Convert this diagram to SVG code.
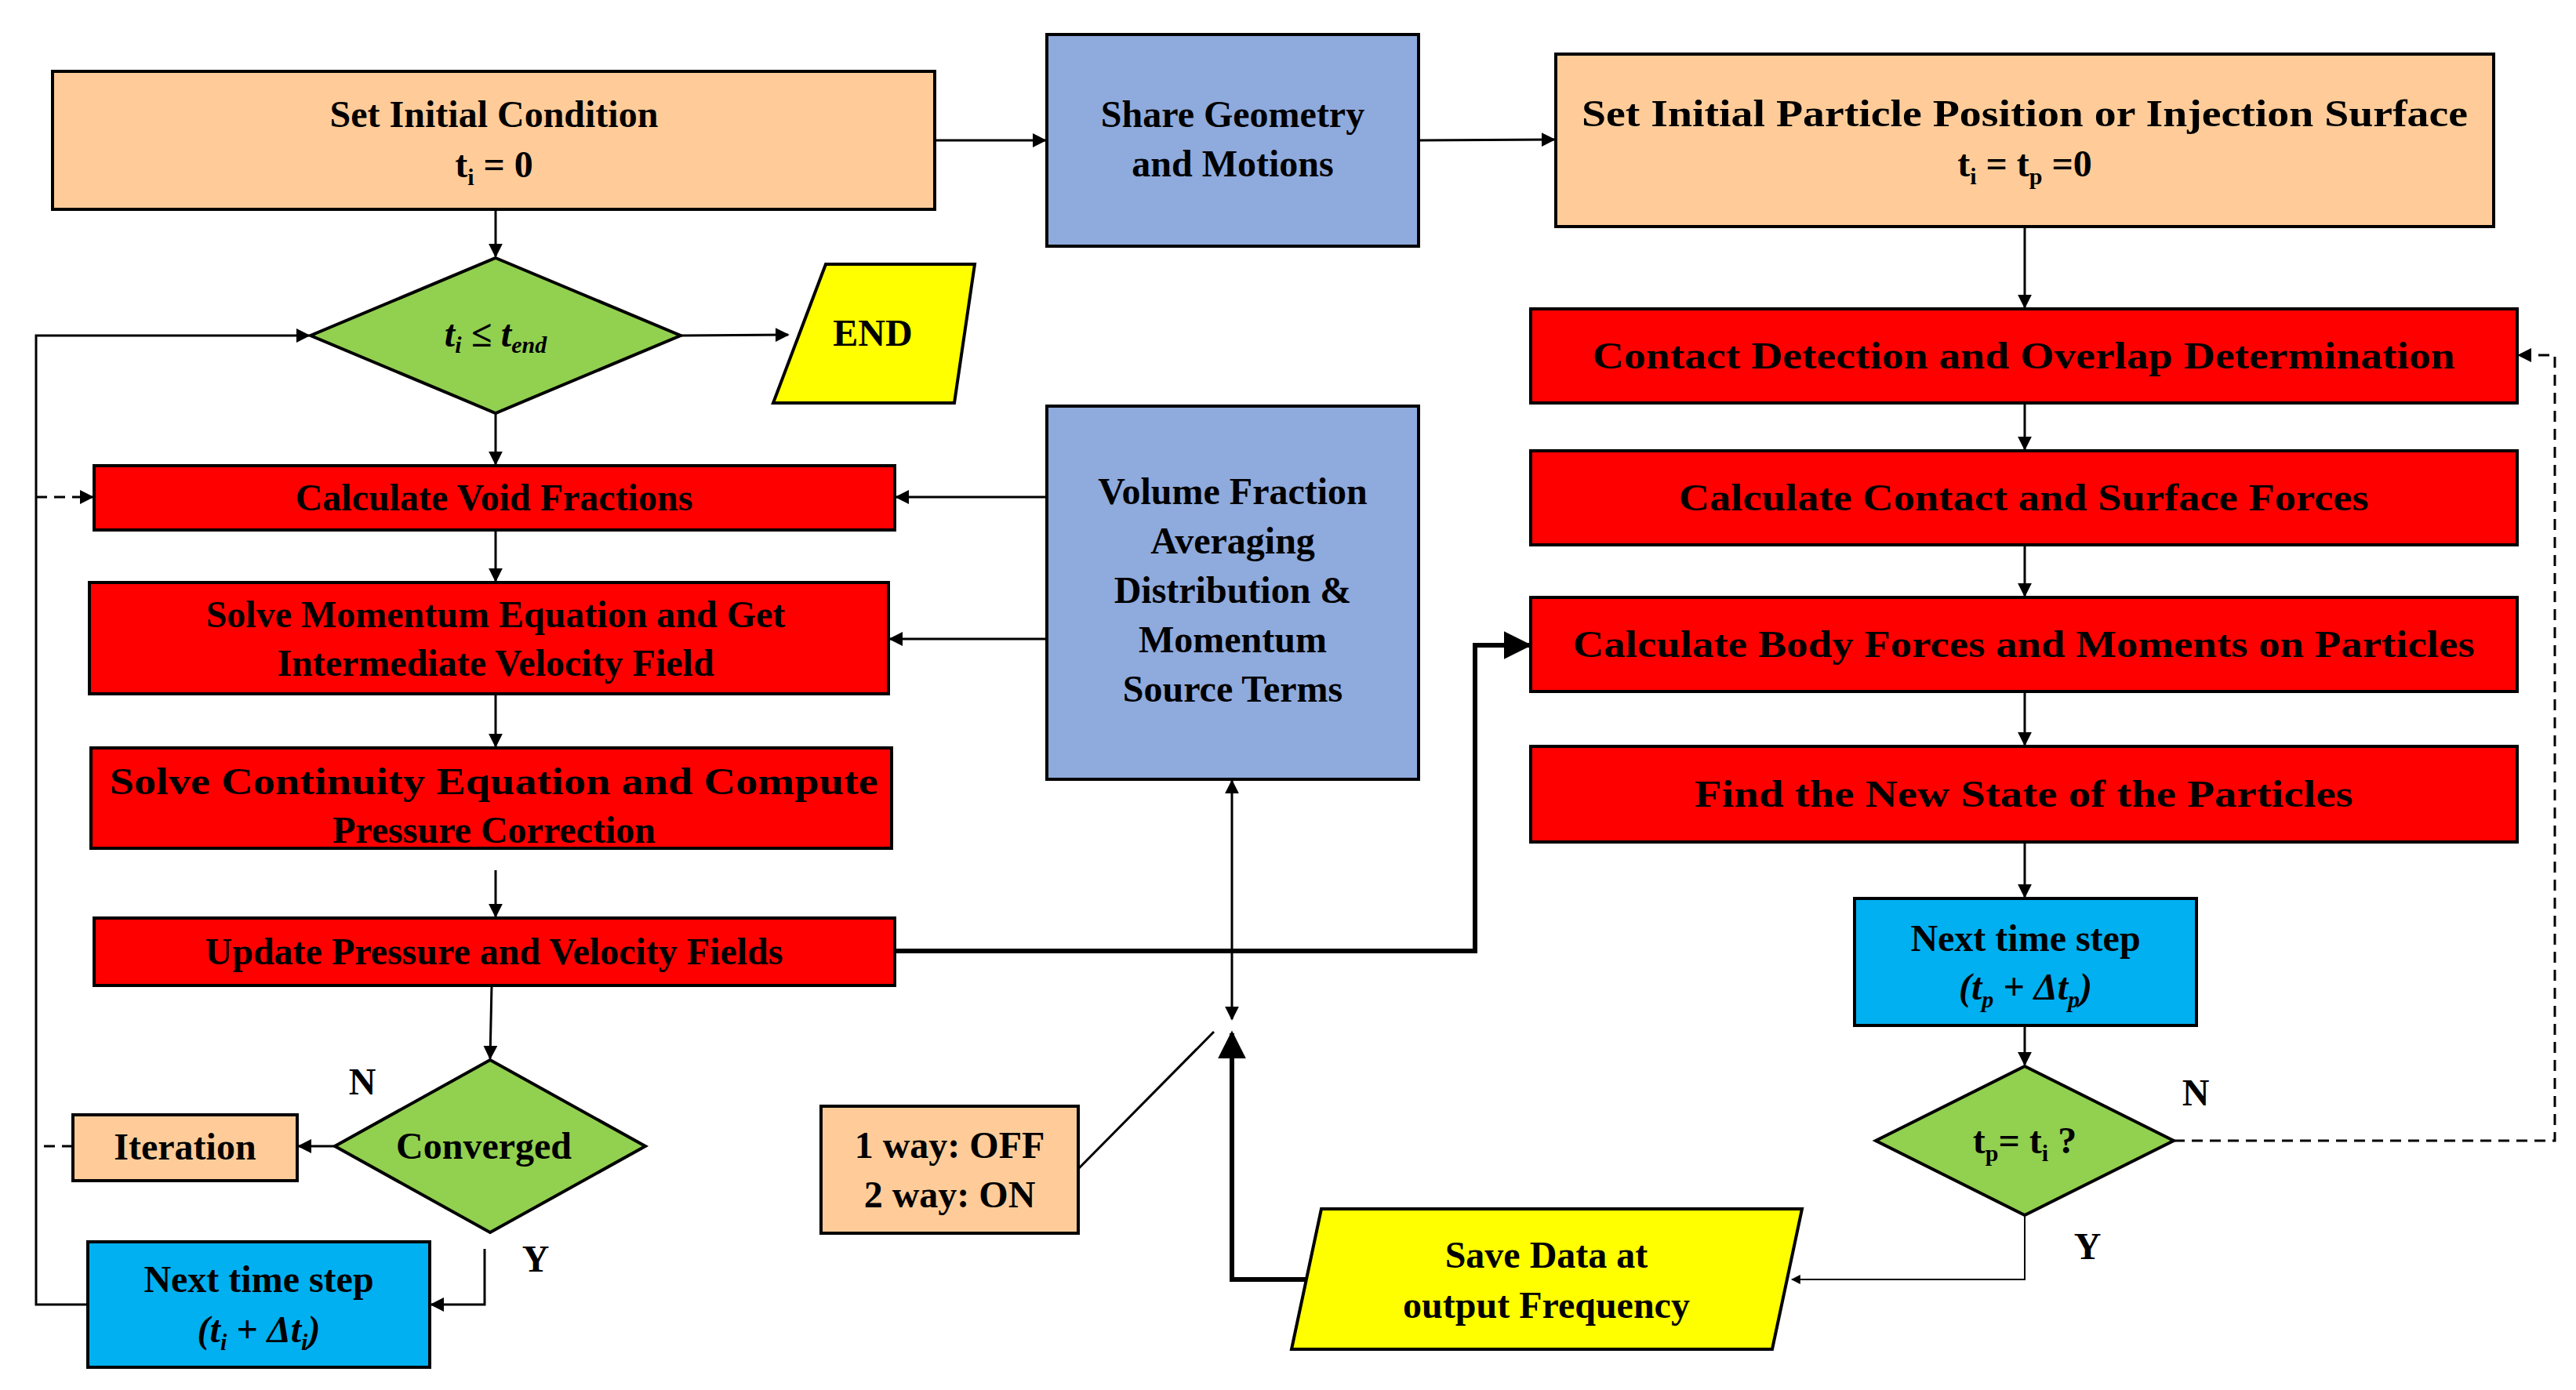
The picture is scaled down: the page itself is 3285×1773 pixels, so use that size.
<svg xmlns="http://www.w3.org/2000/svg" width="3285" height="1773" viewBox="0 0 3285 1773">
<style>
.b{stroke:#000;stroke-width:4}
.o{fill:#FFCC99}.bl{fill:#8FAADC}.r{fill:#FF0000}.g{fill:#92D050}.y{fill:#FFFF00}.c{fill:#00B0F0}
text{font-family:"Liberation Serif",serif;font-weight:bold;font-size:48px;text-anchor:middle;fill:#000}
.k path,.k line,.k polyline{fill:none;stroke:#000;stroke-width:3}
.k .t{stroke-width:6}
.k .d{stroke-dasharray:14 9}
.k .n{stroke-width:2}
</style>
<defs>
<marker id="a" viewBox="0 0 10 10" refX="9" refY="5" markerWidth="8" markerHeight="8" markerUnits="userSpaceOnUse" orient="auto"><path d="M0,0L10,5L0,10z" fill="#000"/></marker>
<marker id="A" viewBox="0 0 10 10" refX="9" refY="5" markerWidth="6" markerHeight="6" orient="auto"><path d="M0,0L10,5L0,10z" fill="#000"/></marker>
</defs>
<rect width="3285" height="1773" fill="#fff"/>
<g class="k">
<line x1="1192" y1="179" x2="1333" y2="179" marker-end="url(#A)"/>
<line x1="1809" y1="179" x2="1982" y2="178" marker-end="url(#A)"/>
<line x1="632" y1="267" x2="632" y2="327" marker-end="url(#A)"/>
<line x1="868" y1="428" x2="1005" y2="427" marker-end="url(#A)"/>
<line x1="632" y1="527" x2="632" y2="592" marker-end="url(#A)"/>
<line x1="632" y1="676" x2="632" y2="741" marker-end="url(#A)"/>
<line x1="632" y1="885" x2="632" y2="952" marker-end="url(#A)"/>
<line x1="632" y1="1110" x2="632" y2="1169" marker-end="url(#A)"/>
<line x1="627" y1="1257" x2="625" y2="1350" marker-end="url(#A)"/>
<line x1="427" y1="1462" x2="381" y2="1462" marker-end="url(#A)"/>
<polyline points="618,1593 618,1664 550,1664" marker-end="url(#A)"/>
<polyline points="112,1664 46,1664 46,428 394,428" marker-end="url(#A)"/>
<line class="d" x1="93" y1="1462" x2="46" y2="1462"/>
<line class="d" x1="46" y1="634" x2="118" y2="634" marker-end="url(#A)"/>
<line x1="1335" y1="634" x2="1143" y2="634" marker-end="url(#A)"/>
<line x1="1335" y1="815" x2="1135" y2="815" marker-end="url(#A)"/>
<polyline class="t" points="1141,1213 1881,1213 1881,823 1950,823" marker-end="url(#A)"/>
<line x1="1571" y1="1150" x2="1571" y2="996" marker-end="url(#A)"/>
<line x1="1571" y1="1150" x2="1571" y2="1300" marker-end="url(#A)"/>
<polyline class="t" points="1665,1632 1571,1632 1571,1318" marker-end="url(#A)"/>
<line x1="1375" y1="1491" x2="1548" y2="1316"/>
<line x1="2582" y1="289" x2="2582" y2="392" marker-end="url(#A)"/>
<line x1="2582" y1="514" x2="2582" y2="573" marker-end="url(#A)"/>
<line x1="2582" y1="695" x2="2582" y2="760" marker-end="url(#A)"/>
<line x1="2582" y1="882" x2="2582" y2="950" marker-end="url(#A)"/>
<line x1="2582" y1="1074" x2="2582" y2="1144" marker-end="url(#A)"/>
<line x1="2582" y1="1308" x2="2582" y2="1358" marker-end="url(#A)"/>
<polyline class="n" points="2582,1550 2582,1632 2285,1632" marker-end="url(#A)"/>
<polyline class="d" points="2772,1455 3258,1455 3258,453 3212,453" marker-end="url(#A)"/>
</g>
<g id="init"><rect class="b o" x="67" y="91" width="1125" height="176"/><text x="630" y="162">Set Initial Condition</text><text x="630" y="226">t<tspan font-size="30" dy="10">i</tspan><tspan dy="-10"> = 0</tspan></text></g>
<g id="share"><rect class="b bl" x="1335" y="44" width="474" height="270"/><text x="1572" y="162">Share Geometry</text><text x="1572" y="225">and Motions</text></g>
<g id="particle"><rect class="b o" x="1984" y="69" width="1196" height="220"/><text x="2582" y="161" textLength="1130" lengthAdjust="spacingAndGlyphs">Set Initial Particle Position or Injection Surface</text><text x="2582" y="225">t<tspan font-size="30" dy="10">i</tspan><tspan dy="-10"> = t</tspan><tspan font-size="30" dy="10">p</tspan><tspan dy="-10"> =0</tspan></text></g>
<g id="check"><polygon class="b g" points="632,329 868,428 632,527 396,428"/><text x="632" y="442" font-style="italic">t<tspan font-size="30" dy="8">i</tspan><tspan dy="-8"> ≤ t</tspan><tspan font-size="30" dy="8">end</tspan></text></g>
<g id="end"><polygon class="b y" points="1053,337 1243,337 1217,514 986,514"/><text x="1113" y="441">END</text></g>
<g id="void"><rect class="b r" x="120" y="594" width="1021" height="82"/><text x="630" y="651">Calculate Void Fractions</text></g>
<g id="mom"><rect class="b r" x="114" y="743" width="1019" height="142"/><text x="632" y="800">Solve Momentum Equation and Get</text><text x="632" y="862">Intermediate Velocity Field</text></g>
<g id="cont"><rect class="b r" x="116" y="954" width="1021" height="128"/><text x="630" y="1013" textLength="980" lengthAdjust="spacingAndGlyphs">Solve Continuity Equation and Compute</text><text x="630" y="1075">Pressure Correction</text></g>
<g id="upd"><rect class="b r" x="120" y="1171" width="1021" height="86"/><text x="630" y="1230">Update Pressure and Velocity Fields</text></g>
<g id="conv"><polygon class="b g" points="625,1352 823,1462 625,1572 427,1462"/><text x="617" y="1478">Converged</text></g>
<g id="iter"><rect class="b o" x="93" y="1422" width="286" height="84"/><text x="236" y="1479">Iteration</text></g>
<text x="462" y="1396">N</text><text x="683" y="1622">Y</text>
<g id="next1"><rect class="b c" x="112" y="1584" width="436" height="160"/><text x="330" y="1648">Next time step</text><text x="330" y="1712" font-style="italic">(t<tspan font-size="30" dy="10">i</tspan><tspan dy="-10"> + Δt</tspan><tspan font-size="30" dy="10">i</tspan><tspan dy="-10">)</tspan></text></g>
<g id="vol"><rect class="b bl" x="1335" y="518" width="474" height="476"/><text x="1572" y="643">Volume Fraction</text><text x="1572" y="706">Averaging</text><text x="1572" y="769">Distribution &amp;</text><text x="1572" y="832">Momentum</text><text x="1572" y="895">Source Terms</text></g>
<g id="way"><rect class="b o" x="1047" y="1411" width="328" height="162"/><text x="1211" y="1477">1 way: OFF</text><text x="1211" y="1540">2 way: ON</text></g>
<g id="save"><polygon class="b y" points="1685,1542 2298,1542 2260,1721 1647,1721"/><text x="1972" y="1617">Save Data at</text><text x="1972" y="1681">output Frequency</text></g>
<g id="cd"><rect class="b r" x="1952" y="394" width="1258" height="120"/><text x="2581" y="470" textLength="1100" lengthAdjust="spacingAndGlyphs">Contact Detection and Overlap Determination</text></g>
<g id="cc"><rect class="b r" x="1952" y="575" width="1258" height="120"/><text x="2581" y="651" textLength="880" lengthAdjust="spacingAndGlyphs">Calculate Contact and Surface Forces</text></g>
<g id="bf"><rect class="b r" x="1952" y="762" width="1258" height="120"/><text x="2581" y="838" textLength="1150" lengthAdjust="spacingAndGlyphs">Calculate Body Forces and Moments on Particles</text></g>
<g id="fn"><rect class="b r" x="1952" y="952" width="1258" height="122"/><text x="2581" y="1029" textLength="840" lengthAdjust="spacingAndGlyphs">Find the  New State of the Particles</text></g>
<g id="next2"><rect class="b c" x="2365" y="1146" width="436" height="162"/><text x="2583" y="1213">Next time step</text><text x="2583" y="1275" font-style="italic">(t<tspan font-size="30" dy="10">p</tspan><tspan dy="-10"> + Δt</tspan><tspan font-size="30" dy="10">p</tspan><tspan dy="-10">)</tspan></text></g>
<g id="tp"><polygon class="b g" points="2582,1360 2772,1455 2582,1550 2392,1455"/><text x="2582" y="1471">t<tspan font-size="30" dy="10">p</tspan><tspan dy="-10">= t</tspan><tspan font-size="30" dy="10">i</tspan><tspan dy="-10"> ?</tspan></text></g>
<text x="2800" y="1410">N</text><text x="2662" y="1606">Y</text>
</svg>
